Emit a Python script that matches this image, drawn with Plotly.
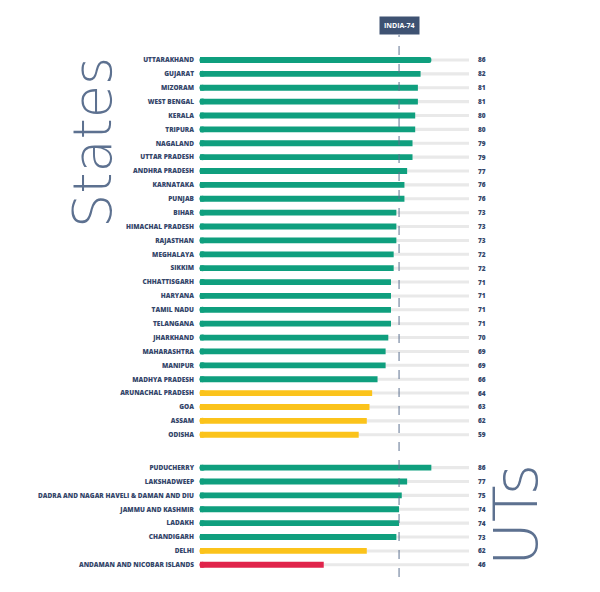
import plotly.graph_objects as go

states = ["UTTARAKHAND", "GUJARAT", "MIZORAM", "WEST BENGAL", "KERALA", "TRIPURA", "NAGALAND",
          "UTTAR PRADESH", "ANDHRA PRADESH", "KARNATAKA", "PUNJAB", "BIHAR", "HIMACHAL PRADESH",
          "RAJASTHAN", "MEGHALAYA", "SIKKIM", "CHHATTISGARH", "HARYANA", "TAMIL NADU", "TELANGANA",
          "JHARKHAND", "MAHARASHTRA", "MANIPUR", "MADHYA PRADESH", "ARUNACHAL PRADESH", "GOA",
          "ASSAM", "ODISHA"]
state_scores = [86, 82, 81, 81, 80, 80, 79, 79, 77, 76, 76, 73, 73, 73, 72, 72, 71, 71, 71, 71,
                70, 69, 69, 66, 64, 63, 62, 59]
uts = ["PUDUCHERRY", "LAKSHADWEEP", "DADRA AND NAGAR HAVELI & DAMAN AND DIU", "JAMMU AND KASHMIR",
       "LADAKH", "CHANDIGARH", "DELHI", "ANDAMAN AND NICOBAR ISLANDS"]
ut_scores = [86, 77, 75, 74, 74, 73, 62, 46]
india_score = 74
max_score = 100

GREEN, YELLOW, RED = "#0f9f7e", "#fbc31b", "#e0244b"
NAVY = "#34466a"
SLATE = "#5d7190"

def color(v):
    if v >= 65:
        return GREEN
    if v >= 50:
        return YELLOW
    return RED

gap = 2.37
names = states + uts
scores = state_scores + ut_scores
pos = list(range(len(states))) + [len(states) - 1 + gap + j for j in range(len(uts))]

L, R, T, B = 200, 131, 35, 15
W, H = 600, 592

def px_x(x):
    return (x - L) / (W - L - R)

def px_y(y):
    return 1 - (y - T) / (H - T - B)

fig = go.Figure()
fig.add_trace(go.Bar(
    x=[max_score] * len(names), y=pos, orientation="h", width=0.22,
    marker=dict(color="#e9e9e9", line=dict(width=0)), hoverinfo="skip", showlegend=False))
fig.add_trace(go.Bar(
    x=scores, y=pos, orientation="h", width=0.42,
    marker=dict(color=[color(v) for v in scores], line=dict(width=0), cornerradius=3),
    showlegend=False))
# rounded left ends of bars
fig.add_trace(go.Scatter(
    x=[0.9] * len(scores), y=pos, mode="markers", cliponaxis=False,
    marker=dict(color=[color(v) for v in scores], size=6, line=dict(width=0)),
    hoverinfo="skip", showlegend=False))

for p, v in zip(pos, scores):
    fig.add_annotation(x=1, xref="paper", y=p, yref="y", text=str(v), showarrow=False,
                       xanchor="left", xshift=7,
                       font=dict(family="Open Sans", size=6.5, color=NAVY, weight=800))

fig.add_shape(type="line", x0=india_score, x1=india_score, xref="x", y0=0, y1=1, yref="paper",
              line=dict(color=SLATE, width=1, dash="dash"))
fig.add_annotation(x=india_score, xref="x", y=1, yref="paper", yanchor="bottom", xanchor="center",
                   text="INDIA-74", showarrow=False, bgcolor="#3e5272", borderpad=4,
                   font=dict(family="Open Sans", size=7, color="white", weight=700))

FAM = "DejaVu Sans ExtraLight, DejaVu Sans Light, Lato Light, Lato"
fig.add_annotation(x=px_x(92), y=px_y(143), xref="paper", yref="paper", text="States",
                   showarrow=False, textangle=-90, xanchor="center", yanchor="middle",
                   font=dict(family=FAM, size=54, color=SLATE, weight=200))
fig.add_annotation(x=px_x(516), y=px_y(515), xref="paper", yref="paper", text="UTs",
                   showarrow=False, textangle=-90, xanchor="center", yanchor="middle",
                   font=dict(family=FAM, size=60, color=SLATE, weight=200))

fig.update_layout(
    width=W, height=H, margin=dict(l=L, r=R, t=T, b=B),
    barmode="overlay", plot_bgcolor="white", paper_bgcolor="white",
    xaxis=dict(range=[0, max_score], visible=False),
    yaxis=dict(range=[37.25, -1.8], tickvals=pos, ticktext=names, showgrid=False, zeroline=False,
               ticks="", ticklabelstandoff=5,
               tickfont=dict(family="Open Sans", size=6.5, color=NAVY, weight=800)),
)

fig.write_html("out.html")
